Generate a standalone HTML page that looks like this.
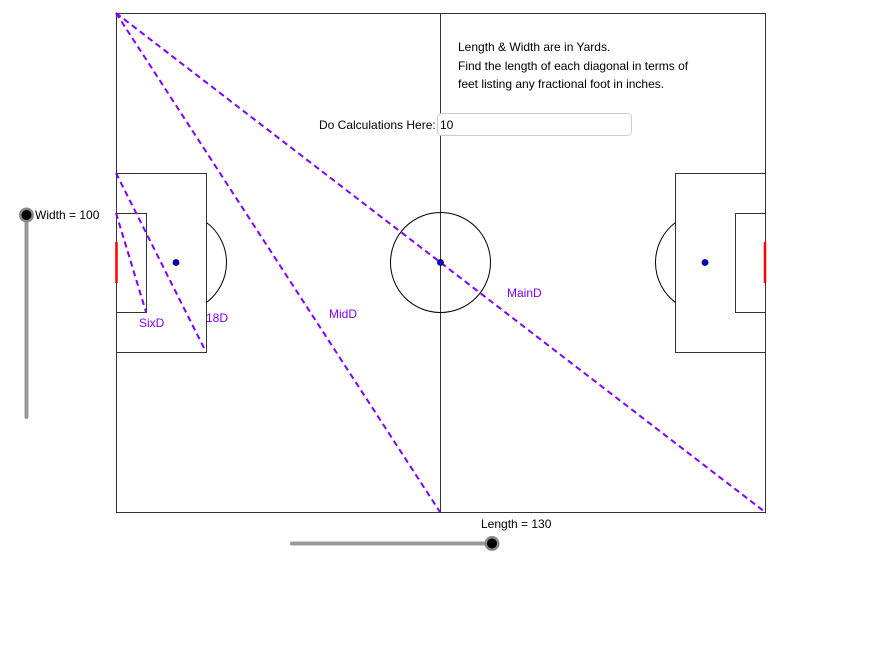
<!DOCTYPE html>
<html><head><meta charset="utf-8"><style>
html,body{margin:0;padding:0;background:#fff;width:895px;height:658px;overflow:hidden;}
svg{display:block;font-family:"Liberation Sans",sans-serif;}
</style></head><body>
<svg width="895" height="658" viewBox="0 0 895 658" xmlns="http://www.w3.org/2000/svg">
<g fill="none" stroke="#333" stroke-width="1">
<rect x="116.5" y="13.5" width="649" height="499"/>
<line x1="440.5" y1="13" x2="440.5" y2="512"/>
<circle cx="440.5" cy="262.5" r="50" stroke="#000"/>
<rect x="116.5" y="173.5" width="90" height="179"/>
<rect x="116.5" y="213.5" width="30" height="99"/>
<path d="M206.5 222.5 A50 50 0 0 1 206.5 302.5" stroke="#000"/>
<rect x="675.5" y="173.5" width="90" height="179"/>
<rect x="735.5" y="213.5" width="30" height="99"/>
<path d="M675.5 222.5 A50 50 0 0 0 675.5 302.5" stroke="#000"/>
</g>
<line x1="116.5" y1="242" x2="116.5" y2="283" stroke="#f00" stroke-width="2.5"/>
<line x1="765" y1="242" x2="765" y2="283" stroke="#f00" stroke-width="2.5"/>
<g stroke="#7f00ff" stroke-width="2" stroke-dasharray="6,4">
<line x1="116" y1="13" x2="765" y2="512"/>
<line x1="116" y1="13" x2="440" y2="512"/>
<line x1="116" y1="173" x2="206" y2="352"/>
<line x1="116" y1="213" x2="146" y2="312"/>
</g>
<g fill="#00f" stroke="#000" stroke-width="0.8">
<circle cx="176" cy="262.5" r="3"/>
<circle cx="440.5" cy="262.5" r="3"/>
<circle cx="705" cy="262.5" r="3"/>
</g>
<g fill="#7f00ff" font-size="12">
<text x="507" y="297">MainD</text>
<text x="329" y="318">MidD</text>
<text x="206" y="322">18D</text>
<text x="139" y="327">SixD</text>
</g>
<g fill="#000" font-size="12">
<text x="458" y="51">Length &amp; Width are in Yards.</text>
<text x="458" y="70">Find the length of each diagonal in terms of</text>
<text x="458" y="88">feet listing any fractional foot in inches.</text>
<text x="319" y="129">Do Calculations Here:</text>
<text x="35" y="219">Width = 100</text>
<text x="481" y="528">Length = 130</text>
</g>
<rect x="437.5" y="113.5" width="194" height="22" rx="4" fill="#fff" stroke="#ccc"/>
<text x="440" y="129" font-size="12" fill="#000">10</text>
<line x1="26.5" y1="215" x2="26.5" y2="417" stroke="#999" stroke-width="4" stroke-linecap="round"/>
<circle cx="26.5" cy="215" r="7.5" fill="#888"/>
<circle cx="26.5" cy="215" r="5" fill="#000"/>
<line x1="292" y1="543.5" x2="492" y2="543.5" stroke="#999" stroke-width="4" stroke-linecap="round"/>
<circle cx="492" cy="543.5" r="7.5" fill="#888"/>
<circle cx="492" cy="543.5" r="5" fill="#000"/>
</svg>
</body></html>
